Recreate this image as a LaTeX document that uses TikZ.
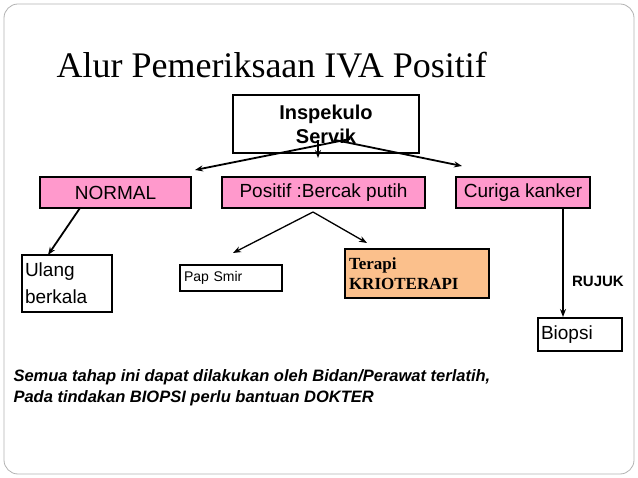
\documentclass[tikz,border=0pt]{standalone}
\usepackage{fontspec}
\setmainfont{Liberation Sans}
\newfontfamily\serifff{Liberation Serif}
\usetikzlibrary{arrows.meta}
\definecolor{pinkb}{HTML}{FF99CC}
\definecolor{orangeb}{HTML}{FBC08C}
\begin{document}
\begin{tikzpicture}[x=1pt,y=-1pt,
 bx/.style={draw,line width=1.6pt,inner sep=0pt},
 arr/.style={-{Stealth[length=8pt,width=6pt]},line width=1.8pt}]
\useasboundingbox (0,0) rectangle (638,478);
\draw[gray!60,line width=0.8pt,rounded corners=14pt] (4,4) rectangle (634,474);
\node[anchor=base west,font=\serifff\fontsize{36}{38}\selectfont] (title) at (53,78) {Alur Pemeriksaan IVA Positif};
\node[bx,minimum width=186pt,minimum height=58pt,align=center,font=\bfseries\fontsize{20}{24}\selectfont] (insp) at (326,124) {Inspekulo\\Servik};
\node[bx,fill=pinkb,minimum width=151pt,minimum height=31pt,font=\fontsize{19}{21}\selectfont] (norm) at (115.5,192.5) {NORMAL};
\node[bx,fill=pinkb,minimum width=203pt,minimum height=31pt,font=\fontsize{19}{21}\selectfont] (pos) at (323.5,192.5) {Positif :Bercak putih};
\node[bx,fill=pinkb,minimum width=134pt,minimum height=31pt,font=\fontsize{19}{21}\selectfont] (cur) at (523,192.5) {Curiga kanker};
\node[bx,minimum width=90pt,minimum height=57pt,align=left,text width=84pt,font=\fontsize{19}{27}\selectfont] (ulang) at (67,283.5) {Ulang\\berkala};
\node[bx,minimum width=102pt,minimum height=26pt,text width=94pt,align=left,font=\fontsize{14}{16}\selectfont] (pap) at (231,278) {Pap Smir};
\node[bx,fill=orangeb,minimum width=144pt,minimum height=49pt,text width=136pt,align=left,font=\serifff\bfseries\fontsize{17}{20}\selectfont] (ter) at (417,273.5) {Terapi\\KRIOTERAPI};
\node[bx,minimum width=84pt,minimum height=33pt,text width=78pt,align=left,font=\fontsize{19}{21}\selectfont] (bio) at (580,334.5) {Biopsi};
\node[font=\bfseries\fontsize{15}{17}\selectfont] (rujuk) at (598,281) {RUJUK};
\coordinate (s1) at (350,139); \coordinate (e1) at (195,170);
\coordinate (s2) at (318,140); \coordinate (e2) at (318,158);
\coordinate (s3) at (335,140); \coordinate (e3) at (462,166);
\draw[arr] (s1) -- (e1);
\draw[arr] (s2) -- (e2);
\draw[arr] (s3) -- (e3);
\coordinate (n1) at (80,208); \coordinate (n2) at (48,255);
\draw[arr] (n1) -- (n2);
\coordinate (p0) at (313,212);
\coordinate (pe1) at (233,253); \coordinate (pe2) at (367,243);
\draw[arr,line width=1.3pt] (p0) -- (pe1);
\draw[arr,line width=1.3pt] (p0) -- (pe2);
\coordinate (c1) at (563,208); \coordinate (c2) at (563,317);
\draw[arr] (c1) -- (c2);
\node[anchor=base west,font=\bfseries\itshape\fontsize{16.5}{18}\selectfont] (f1) at (10,382) {Semua tahap ini dapat dilakukan oleh Bidan/Perawat terlatih,};
\node[anchor=base west,font=\bfseries\itshape\fontsize{16.5}{18}\selectfont] (f2) at (10,403) {Pada tindakan BIOPSI perlu bantuan DOKTER};
\end{tikzpicture}
\end{document}
